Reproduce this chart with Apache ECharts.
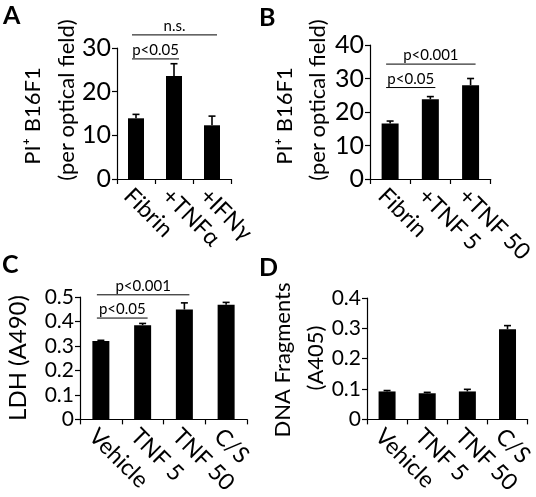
<!DOCTYPE html>
<html><head><meta charset="utf-8">
<script src="https://cdn.jsdelivr.net/npm/echarts@6/dist/echarts.min.js"></script>
<style>html,body{margin:0;padding:0;background:#fff}#c{width:536px;height:497px}</style>
</head><body><div id="c"></div>
<script>
// ---- data ----
const catA = ['Fibrin', '+TNFα', '+IFNγ'];
const meanA = [13.9, 23.6, 12.3];
const errA = [0.9, 2.8, 2.1];
const catB = ['Fibrin', '+TNF 5', '+TNF 50'];
const meanB = [16.6, 23.8, 28.0];
const errB = [0.7, 0.8, 2.0];
const catC = ['Vehicle', 'TNF 5', 'TNF 50', 'C/S'];
const meanC = [0.32, 0.385, 0.449, 0.468];
const errC = [0.003, 0.007, 0.027, 0.010];
const catD = ['Vehicle', 'TNF 5', 'TNF 50', 'C/S'];
const meanD = [0.092, 0.086, 0.092, 0.297];
const errD = [0.003, 0.003, 0.007, 0.012];
const sigA = [{from: 0, to: 2, y: 33.0, text: 'n.s.'}, {from: 0, to: 1, y: 27.5, text: 'p<0.05'}];
const sigB = [{from: 0, to: 2, y: 34.3, text: 'p<0.001'}, {from: 0, to: 1, y: 27.3, text: 'p<0.05'}];
const sigC = [{from: 0, to: 2, y: 0.509, text: 'p<0.001'}, {from: 0, to: 1, y: 0.414, text: 'p<0.05'}];
const sigD = [];
const yMax = [30, 40, 0.5, 0.4];
const yStep = [10, 10, 0.1, 0.1];
const panelLetters = ['A', 'B', 'C', 'D'];

// ---- layout ----
const FONT = 'Lato, "Noto Sans", sans-serif';
const grids = [
  {left: 117, top: 48, width: 114, height: 131},
  {left: 370, top: 45, width: 123, height: 134},
  {left: 80, top: 297, width: 167, height: 130},
  {left: 367, top: 298, width: 166, height: 129}
];
const cats = [catA, catB, catC, catD];
const means = [meanA, meanB, meanC, meanD];
const errs = [errA, errB, errC, errD];
const sigs = [sigA, sigB, sigC, sigD];
const tickFont = [25, 25, 21, 21];
const barW = [16, 17, 17, 17];

function renderErr(params, api) {
  const x = api.value(0), m = api.value(1), t = api.value(2);
  const p0 = api.coord([x, m]);
  const p1 = api.coord([x, t]);
  const st = {stroke: '#000', lineWidth: 1.6};
  return {type: 'group', children: [
    {type: 'line', shape: {x1: p0[0], y1: p0[1], x2: p1[0], y2: p1[1]}, style: st},
    {type: 'line', shape: {x1: p1[0] - 3.5, y1: p1[1], x2: p1[0] + 3.5, y2: p1[1]}, style: st}
  ]};
}

const xAxis = [], yAxis = [], series = [];
for (let i = 0; i < 4; i++) {
  xAxis.push({
    type: 'category', gridIndex: i, data: cats[i],
    axisLine: {lineStyle: {color: '#000', width: 1.2}},
    axisTick: {show: true, length: 5, lineStyle: {color: '#000', width: 1.2}},
    axisLabel: {interval: 0, rotate: -45, align: 'left', verticalAlign: 'top', margin: 5,
      fontSize: 23, color: '#000', fontFamily: FONT}
  });
  yAxis.push({
    type: 'value', gridIndex: i, min: 0, max: yMax[i], interval: yStep[i],
    axisLine: {show: true, lineStyle: {color: '#000', width: 1.2}},
    axisTick: {show: true, length: 5, lineStyle: {color: '#000', width: 1.2}},
    splitLine: {show: false},
    axisLabel: {fontSize: tickFont[i], color: '#000', margin: 6, fontFamily: FONT}
  });
  series.push({
    type: 'bar', xAxisIndex: i, yAxisIndex: i, data: means[i], barWidth: barW[i],
    itemStyle: {color: '#000'}, silent: true
  });
  series.push({
    type: 'custom', xAxisIndex: i, yAxisIndex: i, renderItem: renderErr,
    encode: {x: 0, y: 2}, clip: false, silent: true, z: 1,
    data: means[i].map((m, k) => [k, m, m + errs[i][k]])
  });
}

const chart = echarts.init(document.getElementById('c'));
chart.setOption({
  animation: false,
  backgroundColor: '#fff',
  textStyle: {fontFamily: FONT},
  grid: grids.map(g => Object.assign({containLabel: false}, g)),
  xAxis, yAxis, series
});

// ---- annotations ----
const g = [];
const letterPos = [[3, 3], [259, 5], [2, 252], [259, 255]];
panelLetters.forEach((L, i) => g.push({type: 'text', x: letterPos[i][0], y: letterPos[i][1],
  style: {text: L, font: 'bold 25px ' + FONT, fill: '#000', textVerticalAlign: 'top'}}));

const yNames = [
  [{t: 'PI⁺ B16F1', x: 33, y: 116, s: 22}, {t: '(per optical field)', x: 67, y: 100, s: 22}],
  [{t: 'PI⁺ B16F1', x: 285, y: 116, s: 22}, {t: '(per optical field)', x: 318, y: 100, s: 22}],
  [{t: 'LDH (A490)', x: 18, y: 358, s: 24}],
  [{t: 'DNA Fragments', x: 283, y: 360, s: 22}, {t: '(A405)', x: 316, y: 358, s: 22}]
];
yNames.forEach(arr => arr.forEach(n => g.push({type: 'text', x: n.x, y: n.y, rotation: Math.PI / 2,
  style: {text: n.t, font: n.s + 'px ' + FONT, fill: '#000', textAlign: 'center', textVerticalAlign: 'middle'}})));

sigs.forEach((list, i) => list.forEach(s => {
  const a = chart.convertToPixel({xAxisIndex: i, yAxisIndex: i}, [s.from, s.y]);
  const b = chart.convertToPixel({xAxisIndex: i, yAxisIndex: i}, [s.to, s.y]);
  const x1 = a[0] - 4, x2 = b[0] + 5, y = a[1];
  g.push({type: 'line', shape: {x1, y1: y, x2, y2: y}, style: {stroke: '#000', lineWidth: 1}});
  g.push({type: 'text', x: (x1 + x2) / 2, y: y - 1,
    style: {text: s.text, font: '15px ' + FONT, fill: '#000', textAlign: 'center', textVerticalAlign: 'bottom'}});
}));
chart.setOption({graphic: g});
</script>
</body></html>
